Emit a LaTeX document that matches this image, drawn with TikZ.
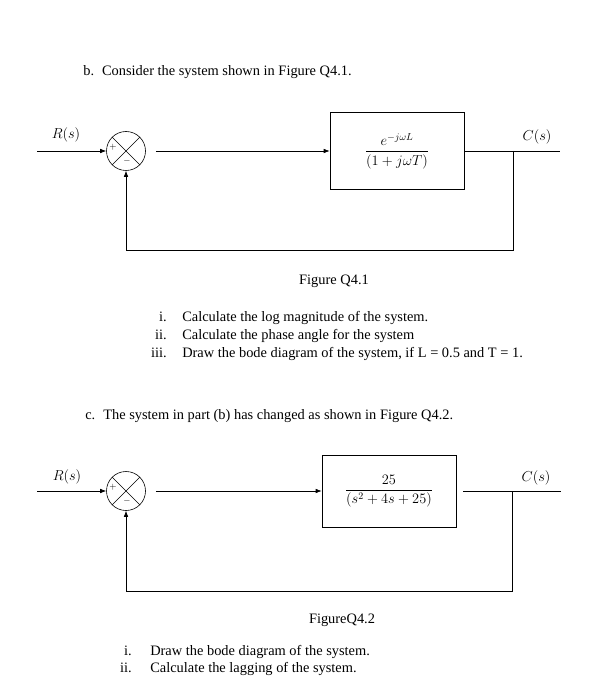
\documentclass[tikz,border=0pt]{standalone}
\usepackage{amsmath,amssymb}
\usepackage{fontspec}
\setmainfont{Liberation Serif}
\usetikzlibrary{calc,arrows.meta}
\newcommand{\lbl}[1]{\fontsize{14}{16}\selectfont$#1$}

\begin{document}
\begin{tikzpicture}[x=1pt,y=-1pt,line width=.6pt,
	txt/.style={anchor=base west,inner sep=0pt,font=\fontsize{14.4}{17}\selectfont},
	sumnode/.style={draw,circle,minimum size=39pt,inner sep=0pt},
	block/.style={draw,rectangle,inner sep=0pt},
	sign/.style={font=\small},
	sig/.style={-{Latex[length=6pt,width=4.5pt]}}]
	\useasboundingbox (0,0) rectangle (597,700);

	%first question
	\node[txt] (qb) at (83,76){b.\hspace{8pt}Consider the system shown in Figure Q4.1.};
	\node[sumnode] (sa) at (126,151){};
	\node[block,minimum width=134pt,minimum height=77pt] (ga) at (397,151){\lbl{\dfrac{e^{-j\omega L}}{(1+j\omega T)}}};
	\coordinate (ra) at (37,151);
	\coordinate (ca) at (560,151);
	\coordinate (ba) at (513,151);
	\coordinate (fa) at (513,250);
	\coordinate (ha) at (126,250);
	\node (rla) at (66,135){\lbl{R(s)}};
	\node (cla) at (537,137){\lbl{C(s)}};
	\node[sign] (pa) at (113,147){$+$};
	\node[sign] (ma) at (127,161){$-$};
	\draw (sa.north west) -- (sa.south east);
	\draw (sa.north east) -- (sa.south west);
	\draw[sig] (ra) -- (sa);
	\draw[sig] (sa.east) ++(10,0) -- (ga.west);
	\draw (ga) -- (ca);
	\draw[sig] (ba) -- (fa) -- (ha) -- (sa);
	\node[txt,anchor=base] (fq1) at (334,284){Figure Q4.1};
	\node[txt,anchor=base east] (ia) at (167,321){i.};
	\node[txt] (ta) at (182,321){Calculate the log magnitude of the system.};
	\node[txt,anchor=base east] (iia) at (167,339){ii.};
	\node[txt] (tb) at (182,339){Calculate the phase angle for the system};
	\node[txt,anchor=base east] (iiia) at (167,357){iii.};
	\node[txt] (tc) at (182,357){Draw the bode diagram of the system, if L = 0.5 and T = 1.};

	%second question
	\node[txt] (qc) at (85,419){c.\hspace{8pt}The system in part (b) has changed as shown in Figure Q4.2.};
	\node[sumnode] (sb) at (126,491){};
	\node[block,minimum width=134pt,minimum height=72pt] (gb) at (389,491){\lbl{\dfrac{25}{(s^2+4s+25)}}};
	\coordinate (ob) at (463,491);
	\coordinate (cb) at (561,491);
	\coordinate (bb) at (512,491);
	\coordinate (fb) at (512,591);
	\coordinate (hb) at (126,591);
	\node (rlb) at (67,477){\lbl{R(s)}};
	\node (clb) at (536,478){\lbl{C(s)}};
	\node[sign] (pb) at (113,487){$+$};
	\node[sign] (mb) at (127,501){$-$};
	\draw (sb.north west) -- (sb.south east);
	\draw (sb.north east) -- (sb.south west);
	\draw[sig] (ra |- sb) -- (sb);
	\draw[sig] (sb.east) ++(10,0) -- (gb.west);
	\draw (ob) -- (cb);
	\draw[sig] (bb) -- (fb) -- (hb) -- (sb);
	\node[txt,anchor=base] (fq2) at (342,623){FigureQ4.2};
	\node[txt,anchor=base east] (ib) at (132,655){i.};
	\node[txt] (td) at (150,655){Draw the bode diagram of the system.};
	\node[txt,anchor=base east] (iib) at (132,672){ii.};
	\node[txt] (te) at (150,672){Calculate the lagging of the system.};
\end{tikzpicture}
\end{document}
